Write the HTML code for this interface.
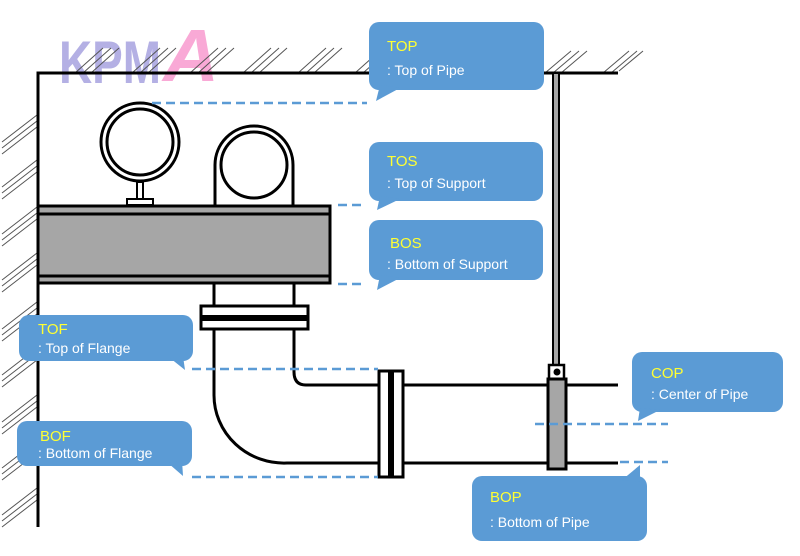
<!DOCTYPE html>
<html><head><meta charset="utf-8"><style>
html,body{margin:0;padding:0;background:#fff}
svg{display:block}
.t{font-family:"Liberation Sans",sans-serif;fill:#ffff33;font-size:15px}
.s{font-family:"Liberation Sans",sans-serif;fill:#fff;font-size:14px}
</style></head><body>
<svg width="800" height="556" viewBox="0 0 800 556" xmlns="http://www.w3.org/2000/svg">
<!-- logo -->
<text x="59" y="83" font-family="Liberation Sans,sans-serif" font-weight="bold" font-size="60" fill="#b4b0e4" textLength="102" lengthAdjust="spacingAndGlyphs">KPM</text>
<text x="163" y="81" font-family="Liberation Sans,sans-serif" font-weight="bold" font-style="italic" font-size="74" fill="#f9a9d6" textLength="56" lengthAdjust="spacingAndGlyphs">A</text>
<!-- hatching top -->
<g stroke="#555" stroke-width="1">
<path d="M75 73 l28 -25 M83 73 l28 -25 M91 73 l28 -25"/>
<path d="M132 73 l28 -25 M140 73 l28 -25 M148 73 l28 -25"/>
<path d="M190 73 l28 -25 M198 73 l28 -25 M206 73 l28 -25"/>
<path d="M243 73 l28 -25 M251 73 l28 -25 M259 73 l28 -25"/>
<path d="M298 73 l28 -25 M306 73 l28 -25 M314 73 l28 -25"/>
<path d="M355 73 l28 -25 M363 73 l28 -25"/>
<path d="M545 73 l26 -22 M553 73 l26 -22 M561 73 l26 -22"/>
<path d="M603 73 l26 -22 M611 73 l26 -22 M619 71 l24 -20"/>
</g>
<g stroke="#555" stroke-width="1">
<path d="M37 115 l-35 27 M37 121 l-35 27 M37 127 l-35 27"/>
<path d="M37 160 l-35 27 M37 166 l-35 27 M37 172 l-35 27"/>
<path d="M37 207 l-35 27 M37 213 l-35 27 M37 219 l-35 27"/>
<path d="M37 253 l-35 27 M37 259 l-35 27 M37 265 l-35 27"/>
<path d="M37 302 l-35 27 M37 308 l-35 27 M37 314 l-35 27"/>
<path d="M37 348 l-35 27 M37 354 l-35 27 M37 360 l-35 27"/>
<path d="M37 395 l-35 27 M37 401 l-35 27 M37 407 l-35 27"/>
<path d="M37 441 l-35 27 M37 447 l-35 27 M37 453 l-35 27"/>
<path d="M37 488 l-35 27 M37 494 l-35 27 M37 500 l-35 27"/>
</g>
<!-- walls -->
<path d="M38 527 V73 H618" fill="none" stroke="#000" stroke-width="3"/>
<!-- pipe 1 -->
<circle cx="140" cy="142" r="39" fill="#fff" stroke="#000" stroke-width="3"/>
<circle cx="140" cy="142" r="33" fill="none" stroke="#000" stroke-width="3"/>
<rect x="137" y="182" width="6" height="17" fill="#fff" stroke="#000" stroke-width="2"/>
<rect x="127" y="199" width="26" height="6" fill="#fff" stroke="#000" stroke-width="2"/>
<!-- pipe 2 -->
<path d="M215 205 V165 A39 39 0 0 1 293 165 V205" fill="#fff" stroke="#000" stroke-width="3"/>
<circle cx="254" cy="165" r="33" fill="none" stroke="#000" stroke-width="3"/>
<!-- beam -->
<rect x="38" y="206" width="292" height="77" fill="#a6a6a6" stroke="#000" stroke-width="3"/>
<path d="M38 214 H330 M38 276 H330" stroke="#000" stroke-width="3"/>
<!-- vertical pipe below beam -->
<path d="M214 284 V307 M294 284 V307" stroke="#000" stroke-width="3"/>
<rect x="201" y="306" width="107" height="23" fill="#fff" stroke="#000" stroke-width="3"/>
<rect x="201" y="315" width="107" height="6" fill="#000"/>
<path d="M214 330 V395 A70 68 0 0 0 287 463 H380" fill="none" stroke="#000" stroke-width="3"/>
<path d="M294 330 V372 Q294 385 306 385 H380" fill="none" stroke="#000" stroke-width="3"/>
<rect x="379" y="371" width="24" height="106" fill="#fff" stroke="#000" stroke-width="3"/>
<rect x="388" y="371" width="6" height="106" fill="#000"/>
<path d="M403 385 H618 M403 463 H618" stroke="#000" stroke-width="3"/>
<!-- hanger -->
<rect x="553" y="73" width="6" height="293" fill="#a6a6a6" stroke="#000" stroke-width="2"/>
<rect x="549" y="365" width="15" height="14" fill="#fff" stroke="#000" stroke-width="2.5"/>
<circle cx="557" cy="372" r="3.5" fill="#000"/>
<rect x="548" y="379" width="18" height="90" fill="#a6a6a6" stroke="#000" stroke-width="3"/>
<!-- dashed lines -->
<g stroke="#5b9bd5" stroke-width="2.5" stroke-dasharray="9 5" fill="none">
<path d="M152 103 H367"/>
<path d="M338 205 H366"/>
<path d="M338 284 H366"/>
<path d="M192 369 H378"/>
<path d="M192 477 H378"/>
<path d="M535 424 H668"/>
<path d="M620 462 H668"/>
</g>
<!-- callouts -->
<g fill="#5b9bd5">
<rect x="369" y="22" width="175" height="68" rx="10"/><path d="M380 85 L376 101 L400 88 Z"/>
<rect x="369" y="142" width="174" height="59" rx="10"/><path d="M380 196 L377 210 L400 199 Z"/>
<rect x="369" y="220" width="174" height="60" rx="10"/><path d="M380 275 L377 290 L400 278 Z"/>
<rect x="19" y="315" width="174" height="46" rx="10"/><path d="M170 358 L185 370 L183 356 Z"/>
<rect x="17" y="421" width="175" height="45" rx="10"/><path d="M168 463 L183 476 L182 460 Z"/>
<rect x="632" y="352" width="151" height="60" rx="10"/><path d="M640 408 L638 421 L660 410 Z"/>
<rect x="472" y="476" width="175" height="65" rx="10"/><path d="M622 480 L640 465 L640 482 Z"/>
</g>
<text class="t" x="387" y="51">TOP</text><text class="s" x="387" y="75">: Top of Pipe</text>
<text class="t" x="387" y="166">TOS</text><text class="s" x="387" y="188">: Top of Support</text>
<text class="t" x="390" y="248">BOS</text><text class="s" x="387" y="269">: Bottom of Support</text>
<text class="t" x="38" y="334">TOF</text><text class="s" x="38" y="353">: Top of Flange</text>
<text class="t" x="40" y="441">BOF</text><text class="s" x="38" y="458">: Bottom of Flange</text>
<text class="t" x="651" y="378">COP</text><text class="s" x="651" y="399">: Center of Pipe</text>
<text class="t" x="490" y="502">BOP</text><text class="s" x="490" y="527">: Bottom of Pipe</text>
</svg>
</body></html>
